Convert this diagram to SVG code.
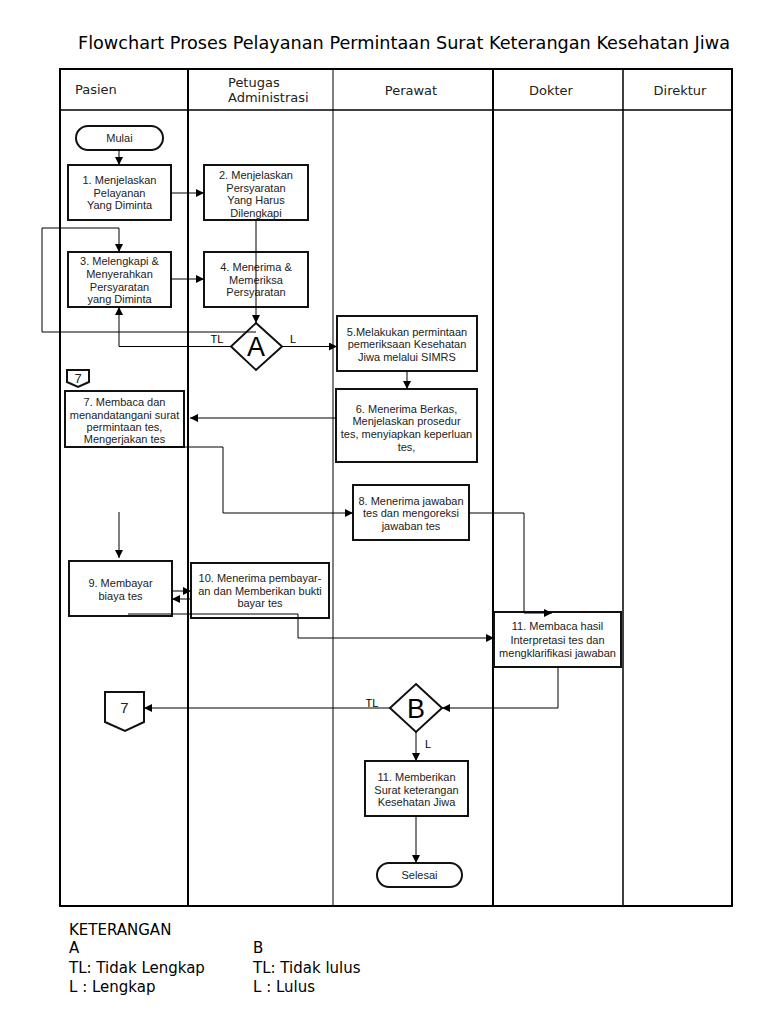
<svg xmlns="http://www.w3.org/2000/svg" width="768" height="1024" viewBox="0 0 768 1024">
<style>
.ln{stroke:#000;fill:none}
.box{fill:#fff;stroke:#111;stroke-width:2}
.t{font-family:"Liberation Sans",Arial,sans-serif;font-size:11px;fill:#222;text-anchor:middle}
.h{font-family:"DejaVu Sans",Verdana,sans-serif;font-size:13px;fill:#222}
.lg{font-family:"DejaVu Sans",Verdana,sans-serif;font-size:15px;fill:#000}
.c{stroke:#000;fill:none;stroke-width:1}
</style>
<defs>
<marker id="ah" viewBox="0 0 10 10" refX="10" refY="5" markerWidth="9" markerHeight="8" markerUnits="userSpaceOnUse" orient="auto"><path d="M0,0 L10,5 L0,10 z" fill="#000"/></marker>
</defs>
<rect width="768" height="1024" fill="#fff"/>
<text x="78" y="49" font-family="DejaVu Sans, Verdana, sans-serif" font-size="18" textLength="652" lengthAdjust="spacingAndGlyphs" fill="#000">Flowchart Proses Pelayanan Permintaan Surat Keterangan Kesehatan Jiwa</text>

<g id="lanes">
<rect x="60" y="69" width="672" height="837" class="ln" stroke-width="2"/>
<line x1="60" y1="110" x2="732" y2="110" class="ln" stroke-width="1.5"/>
<line x1="188" y1="69" x2="188" y2="906" class="ln" stroke-width="2"/>
<line x1="333" y1="69" x2="333" y2="906" class="ln" stroke-width="1"/>
<line x1="493" y1="69" x2="493" y2="906" class="ln" stroke-width="2"/>
<line x1="623" y1="69" x2="623" y2="906" class="ln" stroke-width="1.5"/>
<text x="75" y="94" class="h">Pasien</text>
<text x="228" y="87" class="h">Petugas</text>
<text x="228" y="102" class="h">Administrasi</text>
<text x="411" y="95" class="h" text-anchor="middle">Perawat</text>
<text x="551" y="95" class="h" text-anchor="middle">Dokter</text>
<text x="680" y="95" class="h" text-anchor="middle">Direktur</text>
</g>

<g id="mulai">
<rect x="76" y="126" width="87" height="24" rx="12" class="box" stroke-width="1.5"/>
<text x="119.5" y="142" class="t">Mulai</text>
</g>
<g id="n1">
<rect x="68" y="165" width="103" height="55" class="box"/>
<text x="119.5" y="184" class="t">1. Menjelaskan</text>
<text x="119.5" y="196.5" class="t">Pelayanan</text>
<text x="119.5" y="209" class="t">Yang Diminta</text>
</g>
<g id="n2">
<rect x="204" y="165" width="104" height="55" class="box"/>
<text x="256" y="179" class="t">2. Menjelaskan</text>
<text x="256" y="191.5" class="t">Persyaratan</text>
<text x="256" y="204" class="t">Yang Harus</text>
<text x="256" y="216.5" class="t">Dilengkapi</text>
</g>
<g id="n3">
<rect x="68" y="252" width="103" height="55" class="box"/>
<text x="119.5" y="265" class="t">3. Melengkapi &amp;</text>
<text x="119.5" y="278" class="t">Menyerahkan</text>
<text x="119.5" y="291" class="t">Persyaratan</text>
<text x="119.5" y="303" class="t">yang Diminta</text>
</g>
<g id="n4">
<rect x="204" y="252" width="104" height="55" class="box"/>
<text x="256" y="271" class="t">4. Menerima &amp;</text>
<text x="256" y="284" class="t">Memeriksa</text>
<text x="256" y="296" class="t">Persyaratan</text>
</g>
<g id="decA">
<polygon points="256,323 282,346.5 256,370 231,346.5" class="box" stroke-width="1.5"/>
<text x="256" y="356" font-family="Liberation Sans, Arial, sans-serif" font-size="27" text-anchor="middle" fill="#000">A</text>
</g>
<g id="n5">
<rect x="337" y="316" width="140" height="55" class="box"/>
<text x="407" y="336" class="t">5.Melakukan permintaan</text>
<text x="407" y="348" class="t">pemeriksaan Kesehatan</text>
<text x="407" y="361" class="t">Jiwa melalui SIMRS</text>
</g>
<g id="n6">
<rect x="336" y="389" width="141" height="73" class="box" stroke-width="1.5"/>
<text x="406.5" y="413" class="t">6. Menerima Berkas,</text>
<text x="406.5" y="425" class="t">Menjelaskan prosedur</text>
<text x="406.5" y="438" class="t">tes, menyiapkan keperluan</text>
<text x="406.5" y="451" class="t">tes,</text>
</g>
<g id="conn7a">
<polygon points="67,370 89,370 89,382 78,387 67,382" class="box" stroke-width="1.2"/>
<text x="78" y="383" font-family="Liberation Sans, Arial, sans-serif" font-size="13" text-anchor="middle" fill="#222">7</text>
</g>
<g id="n7">
<rect x="65" y="391" width="119" height="56" class="box" stroke-width="1.5"/>
<text x="124.5" y="406" class="t">7. Membaca dan</text>
<text x="124.5" y="419" class="t">menandatangani surat</text>
<text x="124.5" y="431" class="t">permintaan tes,</text>
<text x="124.5" y="443" class="t">Mengerjakan tes</text>
</g>
<g id="n8">
<rect x="353" y="485" width="116" height="55" class="box" stroke-width="1.5"/>
<text x="411" y="505" class="t">8. Menerima jawaban</text>
<text x="411" y="517" class="t">tes dan mengoreksi</text>
<text x="411" y="530" class="t">jawaban tes</text>
</g>
<g id="n9">
<rect x="69" y="561" width="103" height="55" class="box" stroke-width="1"/>
<text x="120.5" y="587" class="t">9. Membayar</text>
<text x="120.5" y="600" class="t">biaya tes</text>
</g>
<g id="n10">
<rect x="191" y="563" width="138" height="55" class="box"/>
<text x="260" y="582" class="t">10. Menerima pembayar-</text>
<text x="260" y="595" class="t">an dan Memberikan bukti</text>
<text x="260" y="607" class="t">bayar tes</text>
</g>
<g id="n11">
<rect x="494" y="612" width="127" height="55" class="box" stroke-width="1.5"/>
<text x="557.5" y="630" class="t">11. Membaca hasil</text>
<text x="557.5" y="644" class="t">Interpretasi tes dan</text>
<text x="557.5" y="657" class="t">mengklarifikasi jawaban</text>
</g>
<g id="decB">
<polygon points="416,684 442,708 416,732 390,708" class="box" stroke-width="1.5"/>
<text x="416" y="718" font-family="Liberation Sans, Arial, sans-serif" font-size="27" text-anchor="middle" fill="#000">B</text>
</g>
<g id="conn7b">
<polygon points="105,692 144,692 144,722 125,731 105,722" class="box" stroke-width="1.2"/>
<text x="124.5" y="713" font-family="Liberation Sans, Arial, sans-serif" font-size="15" text-anchor="middle" fill="#222">7</text>
</g>
<g id="n12">
<rect x="365" y="761" width="103" height="55" class="box"/>
<text x="416.5" y="781" class="t">11. Memberikan</text>
<text x="416.5" y="794" class="t">Surat keterangan</text>
<text x="416.5" y="806" class="t">Kesehatan Jiwa</text>
</g>
<g id="selesai">
<rect x="377" y="863" width="85" height="24" rx="12" class="box" stroke-width="1.5"/>
<text x="419.5" y="879" class="t">Selesai</text>
</g>

<g id="connectors">
<line x1="119" y1="150" x2="119" y2="165" class="c" stroke-width="1.5" marker-end="url(#ah)"/>
<line x1="171" y1="193" x2="204" y2="193" class="c" marker-end="url(#ah)"/>
<line x1="171" y1="279" x2="204" y2="279" class="c" marker-end="url(#ah)"/>
<line x1="256" y1="220" x2="256" y2="323" class="c" stroke-width="2.5" marker-end="url(#ah)"/>
<polyline points="231,346.5 119,346.5 119,307" class="c" stroke-width="2" marker-end="url(#ah)"/>
<polyline points="256,332 42,332 42,228 119,228 119,252" class="c" stroke-width="1.2" marker-end="url(#ah)"/>
<text x="217" y="343" font-family="Liberation Sans, Arial, sans-serif" font-size="11" text-anchor="middle" fill="#000">TL</text>
<text x="293" y="343" font-family="Liberation Sans, Arial, sans-serif" font-size="11" text-anchor="middle" fill="#000">L</text>
<line x1="282" y1="346.5" x2="337" y2="346.5" class="c" marker-end="url(#ah)"/>
<line x1="407" y1="371" x2="407" y2="389" class="c" stroke-width="1.5" marker-end="url(#ah)"/>
<line x1="336" y1="418" x2="190" y2="418" class="c" marker-end="url(#ah)"/>
<polyline points="120,447 223,447 223,513 353,513" class="c" marker-end="url(#ah)"/>
<polyline points="469,513 524,513 524,613 552,613" class="c" marker-end="url(#ah)"/>
<line x1="119" y1="512" x2="119" y2="558" class="c" marker-end="url(#ah)"/>
<line x1="172" y1="591" x2="191" y2="591" class="c" marker-end="url(#ah)"/>
<line x1="191" y1="599" x2="172" y2="599" class="c" marker-end="url(#ah)"/>
<polyline points="128,614 298,614 298,638 494,638" class="c" marker-end="url(#ah)"/>
<polyline points="558,667 558,708 442,708" class="c" marker-end="url(#ah)"/>
<line x1="390" y1="708" x2="144" y2="708" class="c" marker-end="url(#ah)"/>
<text x="372" y="707" font-family="Liberation Sans, Arial, sans-serif" font-size="11" text-anchor="middle" fill="#000">TL</text>
<text x="428" y="748" font-family="Liberation Sans, Arial, sans-serif" font-size="11" text-anchor="middle" fill="#000">L</text>
<line x1="416" y1="732" x2="416" y2="761" class="c" stroke-width="1.5" marker-end="url(#ah)"/>
<line x1="416" y1="816" x2="416" y2="863" class="c" marker-end="url(#ah)"/>
</g>

<g id="legend">
<text x="69" y="935" class="lg">KETERANGAN</text>
<text x="69" y="953" class="lg">A</text>
<text x="69" y="973" class="lg">TL: Tidak Lengkap</text>
<text x="69" y="992" class="lg">L : Lengkap</text>
<text x="253" y="953" class="lg">B</text>
<text x="253" y="973" class="lg">TL: Tidak lulus</text>
<text x="253" y="992" class="lg">L : Lulus</text>
</g>
</svg>
